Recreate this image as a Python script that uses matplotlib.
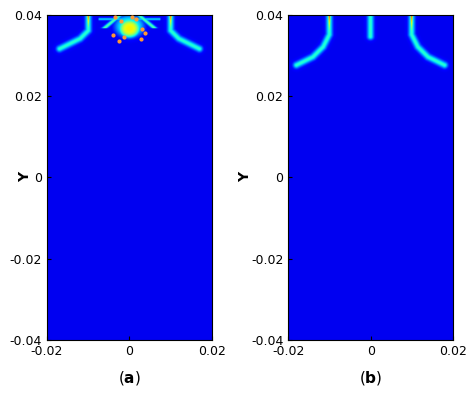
import numpy as np
import matplotlib.pyplot as plt

# jet centre lines (x, y)
jet_a_left = [(-0.0100, 0.0400), (-0.0100, 0.0360), (-0.0120, 0.0340), (-0.0170, 0.0315)]
jet_a_right = [(0.0100, 0.0400), (0.0100, 0.0360), (0.0120, 0.0340), (0.0170, 0.0315)]
jet_b_left = [(-0.0100, 0.0400), (-0.0100, 0.0350), (-0.0115, 0.0320), (-0.0140, 0.0295), (-0.0180, 0.0275)]
jet_b_right = [(0.0100, 0.0400), (0.0100, 0.0350), (0.0115, 0.0320), (0.0140, 0.0295), (0.0180, 0.0275)]
jet_b_centre = [(0.0000, 0.0400), (0.0000, 0.0345)]

# spray droplets in case (a)
drop_x = [-0.0035, -0.0020, 0.0015, 0.0030, -0.0040, 0.0038, 0.0028, -0.0012, 0.0006, -0.0025]
drop_y = [0.0395, 0.0385, 0.0390, 0.0365, 0.0350, 0.0355, 0.0340, 0.0345, 0.0395, 0.0335]

BG = 0.1


def seg_dist(px, py, a, b):
    ax_, ay_ = a
    bx_, by_ = b
    dx, dy = bx_ - ax_, by_ - ay_
    t = ((px - ax_) * dx + (py - ay_) * dy) / (dx * dx + dy * dy)
    t = np.clip(t, 0, 1)
    return np.hypot(px - ax_ - t * dx, py - ay_ - t * dy), t


def add_jet(field, X, Y, line, core=True):
    for i in range(len(line) - 1):
        d, t = seg_dist(X, Y, line[i], line[i + 1])
        field = np.maximum(field, BG + 0.3 * np.exp(-(d / 0.0008) ** 2))
        if core and i == 0:
            field = np.maximum(field, BG + 0.8 * np.exp(-(d / 0.0003) ** 2) * (1 - 0.7 * t))
    return field


x = np.linspace(-0.02, 0.02, 400)
y = np.linspace(-0.04, 0.04, 800)
X, Y = np.meshgrid(x, y)

fa = np.full_like(X, BG)
for ln in (jet_a_left, jet_a_right):
    fa = add_jet(fa, X, Y, ln)
# spray cloud
fa = np.maximum(fa, BG + 0.3 * np.exp(-((X / 0.0035) ** 2 + ((Y - 0.0370) / 0.0028) ** 2) ** 2))
fa = np.maximum(fa, BG + 0.55 * np.exp(-((X / 0.0025) ** 2 + ((Y - 0.0365) / 0.0022) ** 2) ** 2))
fa = np.maximum(fa, BG + 0.25 * np.exp(-(((Y - 0.0388) / 0.0003) ** 2)) * (np.abs(X) < 0.0075))
fa = np.maximum(fa, BG + 0.35 * np.exp(-((np.abs(X) - 0.002 - 1.2 * (0.04 - Y)) / 0.0007) ** 2) * (Y > 0.0365))

fb = np.full_like(X, BG)
for ln in (jet_b_left, jet_b_right):
    fb = add_jet(fb, X, Y, ln)
fb = add_jet(fb, X, Y, jet_b_centre, core=False)

fig = plt.figure(figsize=(4.74, 4.0), dpi=100)
boxes = [[0.099, 0.15, 0.348, 0.813], [0.608, 0.15, 0.348, 0.813]]
ylab_x = [-0.09, -0.22]
for box, f, lab, spray, lx in zip(boxes, (fa, fb), ('a', 'b'), (True, False), ylab_x):
    ax = fig.add_axes(box)
    ax.imshow(f, cmap='jet', vmin=0, vmax=1, origin='lower',
              extent=[-0.02, 0.02, -0.04, 0.04], aspect='auto', interpolation='bilinear')
    if spray:
        ax.scatter(drop_x, drop_y, s=4, color='#ff9933', zorder=3)
    ax.set_xlim(-0.02, 0.02)
    ax.set_ylim(-0.04, 0.04)
    ax.set_xticks([-0.02, 0, 0.02])
    ax.set_xticklabels(['-0.02', '0', '0.02'])
    ax.set_yticks([-0.04, -0.02, 0, 0.02, 0.04])
    ax.set_yticklabels(['-0.04', '-0.02', '0', '0.02', '0.04'])
    ax.tick_params(labelsize=9, length=3, direction='in')
    ax.set_ylabel('Y', fontsize=10, fontweight='bold')
    ax.yaxis.set_label_coords(lx, 0.5)
    ax.text(0.5, -0.13, r'($\mathbf{' + lab + '}$)', transform=ax.transAxes,
            ha='center', fontsize=11)

fig.savefig('out.png', dpi=100)
